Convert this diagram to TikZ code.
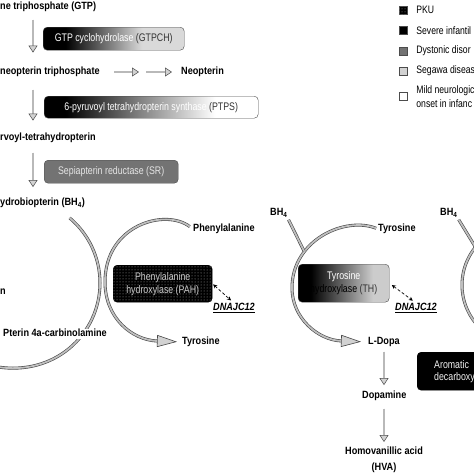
\documentclass[tikz,border=0pt]{standalone}
\usepackage{fontspec}
\setmainfont{Liberation Sans}[FakeStretch=0.87]
\newfontfamily\narrowsf{Liberation Sans}[FakeStretch=0.8]
\usetikzlibrary{positioning,arrows.meta,patterns}

\pgfdeclarehorizontalshading{gtpchshade}{100bp}{color(0bp)=(black); color(33bp)=(black); color(60bp)=(gray!30); color(100bp)=(gray!30)}
\pgfdeclarehorizontalshading{ptpsshade}{100bp}{color(0bp)=(black); color(30bp)=(black); color(47bp)=(gray); color(65bp)=(white); color(100bp)=(white)}
\pgfdeclarehorizontalshading{thshade}{100bp}{color(0bp)=(black); color(32bp)=(black); color(66bp)=(gray!40); color(100bp)=(gray!40)}

\begin{document}
\begin{tikzpicture}[
  x=1pt,y=1pt,
  metab/.style={anchor=west,inner sep=0pt,text height=7.5pt,text depth=2pt,font=\fontsize{10.5}{12}\selectfont\bfseries},
  enzbox/.style={draw=gray!60!black,rounded corners=4pt,inner sep=0pt,anchor=north west,align=center,font=\fontsize{11}{13}\selectfont\narrowsf},
  flowarrow/.style={draw=gray!60!black,line width=.5pt,double=gray!55,double distance=1.6pt,-{Triangle[length=7pt,width=9pt,fill=gray!35]}},
  cyclearc/.style={draw=gray!55!black,line width=.6pt,double=gray!50,double distance=1.8pt},
  bigtip/.style={-{Triangle[length=20pt,width=12pt,fill=gray!35]}},
  dasharrow/.style={densely dashed,line width=.7pt,{Stealth[length=4pt,width=4pt]}-{Stealth[length=4pt,width=4pt]}},
  gene/.style={inner sep=0pt,font=\fontsize{10.5}{12}\selectfont\bfseries\itshape},
  legsq/.style={draw=gray!60!black,minimum size=8pt,inner sep=0pt},
  legtxt/.style={anchor=west,inner sep=0pt,align=left,font=\fontsize{10.8}{14}\selectfont\narrowsf},
]
\fill[white] (0,0) rectangle (474,-474);
\useasboundingbox (0,0) rectangle (474,-474);

% synthesis of BH4
\node[metab] (gtp) at (0,-7) {ne triphosphate (GTP)};
\node[metab] (ntp) at (0,-72) {neopterin triphosphate};
\node[metab] (neo) at (181,-72) {Neopterin};
\node[metab] (ptp) at (0,-138) {rvoyl-tetrahydropterin};
\node[metab] (bh4a) at (0,-203) {ydrobiopterin (BH\textsubscript{4})};

\node[enzbox,shading=gtpchshade,minimum width=141pt,minimum height=23pt] (gtpch) at (43,-27)
  {\color{white}GTP cyclohydrolase \color{gray!40!black}(GTPCH)};
\node[enzbox,shading=ptpsshade,minimum width=214pt,minimum height=22pt] (ptps) at (44,-96)
  {\color{white}6-pyruvoyl tetrahydropterin synthase \color{gray!40!black}(PTPS)};
\node[enzbox,fill=gray!90!black,minimum width=134pt,minimum height=23pt,text=gray!20] (sr) at (44,-160)
  {Sepiapterin reductase (SR)};

\coordinate (col) at (33,0);
\draw[flowarrow,shorten <=8pt,shorten >=14.5pt] (gtp.south -| col) -- (ntp.north -| col);
\draw[flowarrow,shorten <=13pt,shorten >=12.5pt] (ntp.south -| col) -- (ptp.north -| col);
\draw[flowarrow,shorten <=10pt,shorten >=11pt] (ptp.south -| col) -- (bh4a.north -| col);

\coordinate (nh1) at (114,-72);
\coordinate (nh2) at (139,-72);
\coordinate (nh3) at (146,-72);
\coordinate (nh4) at (172,-72);
\draw[flowarrow] (nh1) -- (nh2);
\draw[flowarrow] (nh3) -- (nh4);

% regeneration cycle
\coordinate (bigtop) at (69.6,-217.9);
\draw[cyclearc] (bigtop) .. controls (88.8,-234) and (100,-257.9) .. (100,-283)
  .. controls (100,-308.1) and (88.8,-332) .. (69.6,-348.1)
  .. controls (50.4,-364.2) and (24.9,-371.1) .. (-2,-367);
\node[metab] (dhb) at (0,-292) {n};
\node[metab,fill=white] (pca) at (3,-334) {Pterin 4a-carbinolamine};

% PAH
\node[metab] (phe) at (193,-229) {Phenylalanine};
\node[metab] (tyr1) at (182,-342) {Tyrosine};
\node[enzbox,fill=black,draw=black,minimum width=99pt,minimum height=37pt,text=gray!40,
  postaction={pattern=dots,pattern color=gray!70}] (pah) at (113,-265)
  {Phenylalanine\\hydroxylase (PAH)};
\draw[cyclearc,bigtip,shorten <=4pt,shorten >=5pt] (phe.west) .. controls (165,-208) and (105,-225) .. (105,-282)
  .. controls (105,-318) and (132,-340) .. (tyr1.west);
\node[gene] (dna1) at (234,-308) {\underline{DNAJC12}};
\draw[dasharrow,shorten <=1pt,shorten >=4pt] (pah.east) -- (dna1.north);

% TH
\node[metab] (bh4b) at (270,-213) {BH\textsubscript{4}};
\node[metab] (tyr2) at (378,-229) {Tyrosine};
\node[metab] (ldopa) at (368,-342) {L-Dopa};
\node[enzbox,shading=thshade,minimum width=91pt,minimum height=38pt] (th) at (298,-264)
  {\color{white}Tyrosine\\hydroxylase \color{gray!40!black}(TH)};
\draw[cyclearc,bigtip,shorten <=2pt,shorten >=7pt] (tyr2.west) .. controls (345,-216) and (292,-240) .. (292,-288)
  .. controls (292,-318) and (318,-340) .. (ldopa.west);
\coordinate (thj) at (304,-251);
\draw[cyclearc,shorten <=2pt] (bh4b.south east) -- (thj);
\node[gene] (dna2) at (416,-308) {\underline{DNAJC12}};
\draw[dasharrow,shorten <=3pt,shorten >=4pt] (th.east) -- (dna2.north);

\node[metab] (dopa) at (362,-396) {Dopamine};
\node[inner sep=0pt,align=center,anchor=north,font=\fontsize{10.5}{16}\selectfont\bfseries] (hva) at (384,-446.5)
  {Homovanillic acid\\(HVA)};
\coordinate (rcol) at (384,0);
\draw[flowarrow,shorten <=5pt,shorten >=6pt] (ldopa.south -| rcol) -- (dopa.north -| rcol);
\draw[flowarrow,shorten <=8pt,shorten >=4.5pt] (dopa.south -| rcol) -- (hva.north -| rcol);

% AADC
\node[enzbox,fill=black,draw=black,text width=60pt,inner xsep=17pt,minimum height=38pt,align=left,
  text=gray!10,font=\fontsize{11}{12}\selectfont\narrowsf] (aadc) at (417,-352) {Aromatic\\decarboxy};
\node[metab] (bh4c) at (440,-213) {BH\textsubscript{4}};
\coordinate (rc) at (522,-285);
\draw[cyclearc] (rc) ++(125:60) arc[start angle=125,end angle=235,radius=60];
\coordinate (rcj) at (476,-248);
\draw[cyclearc,shorten <=2pt] (bh4c.south east) -- (rcj);

% legend
\node[legsq,fill=black,postaction={pattern=dots,pattern color=gray!80}] (lg1) at (403,-10) {};
\node[legsq,fill=black,below=12pt of lg1] (lg2) {};
\node[legsq,fill=gray!90!black,below=12pt of lg2] (lg3) {};
\node[legsq,fill=gray!35,below=12pt of lg3] (lg4) {};
\node[legsq,fill=white,below=17pt of lg4] (lg5) {};
\node[legtxt,right=9pt of lg1] (lt1) {PKU};
\node[legtxt,right=9pt of lg2] (lt2) {Severe infantil};
\node[legtxt,right=9pt of lg3] (lt3) {Dystonic disor};
\node[legtxt,right=9pt of lg4] (lt4) {Segawa diseas};
\node[legtxt,right=9pt of lg5] (lt5) {Mild neurologic\\onset in infanc};
\end{tikzpicture}
\end{document}
